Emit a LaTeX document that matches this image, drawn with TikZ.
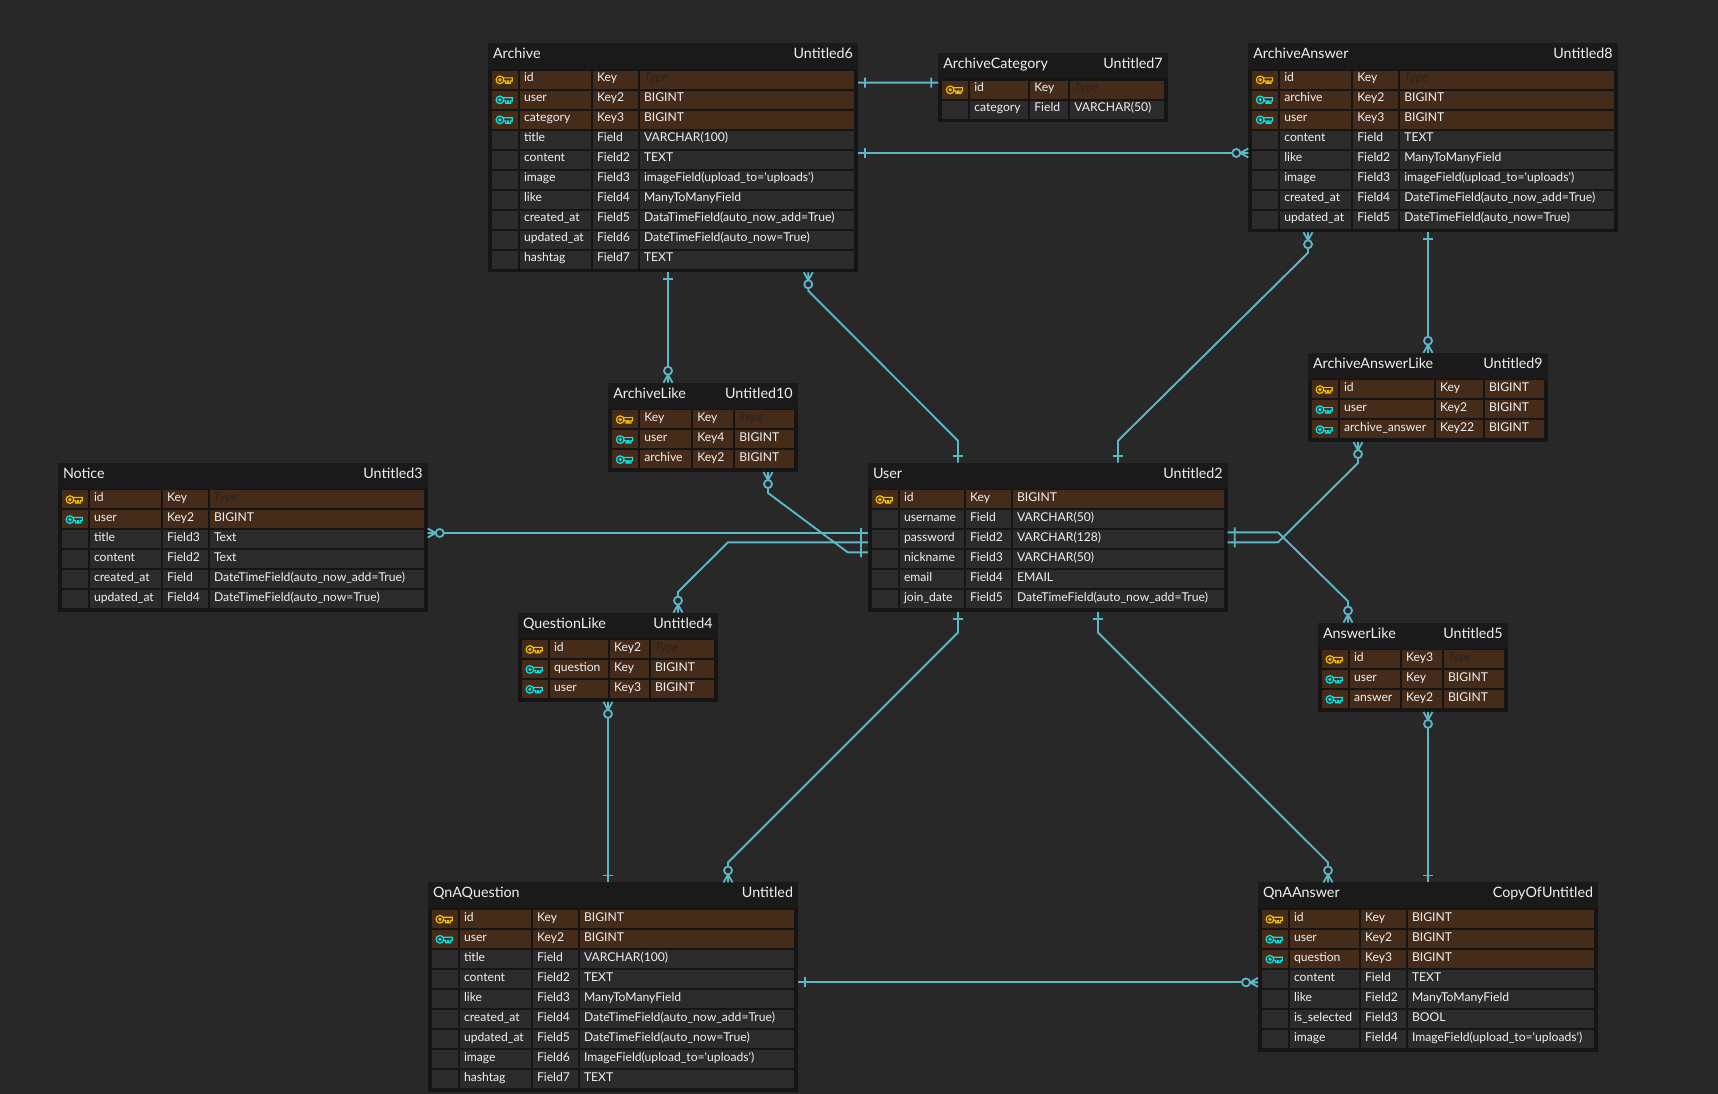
\documentclass[tikz,border=0pt]{standalone}
\usepackage{fontspec}
\setmainfont{Lato}
\usetikzlibrary{arrows.meta}

\definecolor{pagebg}{HTML}{282828}
\definecolor{tablebg}{HTML}{151515}
\definecolor{headbg}{HTML}{1A1A1A}
\definecolor{rowp}{HTML}{452B1A}
\definecolor{rowf}{HTML}{452B1A}
\definecolor{rown}{HTML}{2B2B2B}
\definecolor{keyp}{HTML}{F2C200}
\definecolor{keyf}{HTML}{00E8E8}
\definecolor{cellink}{HTML}{F0F0F0}
\definecolor{typeink}{HTML}{2A2320}
\definecolor{linkcol}{HTML}{5CB8C6}

\pgfdeclarearrow{
	name=ZeroMany,
	setup code={\pgfarrowssettipend{0pt}\pgfarrowssetlineend{-16pt}\pgfarrowssetvisualbackend{-16pt}\pgfarrowssetbackend{-16pt}},
	drawing code={
		\pgfsetdash{}{0pt}
		\pgfsetlinewidth{1.8pt}
		\pgfpathcircle{\pgfpoint{-12pt}{0pt}}{4pt}
		\pgfpathmoveto{\pgfpoint{-8pt}{0pt}}
		\pgfpathlineto{\pgfpoint{0pt}{0pt}}
		\pgfpathmoveto{\pgfpoint{-8pt}{0pt}}
		\pgfpathlineto{\pgfpoint{0pt}{4.5pt}}
		\pgfpathmoveto{\pgfpoint{-8pt}{0pt}}
		\pgfpathlineto{\pgfpoint{0pt}{-4.5pt}}
		\pgfusepathqstroke
	},
	defaults={}
}
\pgfdeclarearrow{
	name=OneBar,
	setup code={\pgfarrowssettipend{0pt}\pgfarrowssetlineend{0pt}\pgfarrowssetvisualbackend{-7pt}\pgfarrowssetbackend{-7pt}},
	drawing code={
		\pgfsetdash{}{0pt}
		\pgfsetlinewidth{1.7pt}
		\pgfpathmoveto{\pgfpoint{-7pt}{5pt}}
		\pgfpathlineto{\pgfpoint{-7pt}{-5pt}}
		\pgfusepathqstroke
	},
	defaults={}
}

\tikzset{
	tablebox/.style={fill=tablebg,anchor=north west,inner sep=0pt,outer sep=0pt},
	headbox/.style={fill=headbg,anchor=north west,inner sep=0pt,outer sep=0pt},
	headtext/.style={inner sep=0pt,outer sep=0pt,text=cellink,font=\fontsize{14.3}{16}\selectfont},
	cell/.style={anchor=north west,inner xsep=4pt,inner ysep=0pt,outer sep=0pt,text height=11.3pt,text depth=6.7pt,align=left,text=cellink,font=\fontsize{12.15}{14}\selectfont},
	keyline/.style={line width=1.2pt},
	link/.style={draw=linkcol,line width=1.9pt,line join=round}
}

\newcommand{\ph}{{\itshape\color{typeink}Type}}
\newcommand{\qt}{\textquotesingle}

% name, corner, width, name col, key col, rows, title, tag, row list
\newcommand{\ertable}[9]{
	\pgfmathsetmacro{\boxh}{29.3+20*#6}
	\pgfmathsetmacro{\kx}{34+#4}
	\pgfmathsetmacro{\tx}{36+#4+#5}
	\pgfmathsetmacro{\tw}{#3-48-#4-#5}
	\pgfmathsetmacro{\nw}{#4-8}
	\pgfmathsetmacro{\kw}{#5-8}
	\node[tablebox,minimum width=#3pt,minimum height=\boxh pt] (#1) at (#2) {};
	\node[headbox,minimum width=#3pt,minimum height=26pt] (#1-head) at (#1.north west) {};
	\node[headtext,anchor=base west] (#1-title) at ([xshift=5,yshift=-15.5]#1.north west) {#7};
	\node[headtext,anchor=base east] (#1-tag) at ([xshift=-5,yshift=-15.5]#1.north east) {#8};
	\foreach \kind/\nm/\ky/\ty [count=\i] in {#9}{
		\pgfmathsetmacro{\rowy}{27.7+20*(\i-1)}
		\node[cell,fill=row\kind,text width=18pt] (#1-i\i) at ([shift={(4,\rowy)}]#1.north west) {};
		\node[cell,fill=row\kind,text width=\nw pt] (#1-n\i) at ([shift={(32,\rowy)}]#1.north west) {\nm};
		\node[cell,fill=row\kind,text width=\kw pt] (#1-k\i) at ([shift={(\kx,\rowy)}]#1.north west) {\ky};
		\node[cell,fill=row\kind,text width=\tw pt] (#1-t\i) at ([shift={(\tx,\rowy)}]#1.north west) {\ty};
		\if\kind n\else
			\draw[keyline,draw=key\kind,shift={(#1-i\i.center)}] (-5.1,0.2) circle (3.8) (-5.1,0.2) circle (1)
				(-1.5,-1.8) -- (7.3,-1.8) -- (7.3,1.4) -- (5.6,1.4) -- (5.6,3.6) -- (3.6,3.6) -- (3.6,1.4) -- (2.4,1.4) -- (2.4,3.6) -- (0.6,3.6) -- (0.6,1.4) -- (-1.5,1.4);
		\fi
	}
}

\begin{document}
\begin{tikzpicture}[x=1pt,y=-0.9993pt]
	\useasboundingbox (0,0) rectangle (1718,1094.5);
	\fill[pagebg] (0,0) rectangle (1718,1094.5);

	\ertable{archive}{488,43}{370}{71}{45}{10}{Archive}{Untitled6}{
		p/id/Key/\ph,f/user/Key2/BIGINT,f/category/Key3/BIGINT,n/title/Field/VARCHAR(100),n/content/Field2/TEXT,
		n/image/Field3/imageField(upload\_to=\qt uploads\qt),n/like/Field4/ManyToManyField,
		n/created\_at/Field5/DataTimeField(auto\_now\_add=True),n/updated\_at/Field6/DateTimeField(auto\_now=True),n/hashtag/Field7/TEXT}
	\ertable{category}{938.3,53}{229.4}{58}{38}{2}{ArchiveCategory}{Untitled7}{
		p/id/Key/\ph,n/category/Field/VARCHAR(50)}
	\ertable{answer}{1248.3,43}{369.4}{71}{45}{8}{ArchiveAnswer}{Untitled8}{
		p/id/Key/\ph,f/archive/Key2/BIGINT,f/user/Key3/BIGINT,n/content/Field/TEXT,n/like/Field2/ManyToManyField,
		n/image/Field3/imageField(upload\_to=\qt uploads\qt),n/created\_at/Field4/DateTimeField(auto\_now\_add=True),
		n/updated\_at/Field5/DateTimeField(auto\_now=True)}
	\ertable{answerlike}{1308,353}{239.7}{94}{47}{3}{ArchiveAnswerLike}{Untitled9}{
		p/id/Key/BIGINT,f/user/Key2/BIGINT,f/archive\_answer/Key22/BIGINT}
	\ertable{archivelike}{608.3,383}{189.4}{51}{40}{3}{ArchiveLike}{Untitled10}{
		p/Key/Key/\ph,f/user/Key4/BIGINT,f/archive/Key2/BIGINT}
	\ertable{notice}{58,463}{369.7}{71}{45}{6}{Notice}{Untitled3}{
		p/id/Key/\ph,f/user/Key2/BIGINT,n/title/Field3/Text,n/content/Field2/Text,
		n/created\_at/Field/DateTimeField(auto\_now\_add=True),n/updated\_at/Field4/DateTimeField(auto\_now=True)}
	\ertable{user}{868,463}{359.7}{64}{45}{6}{User}{Untitled2}{
		p/id/Key/BIGINT,n/username/Field/VARCHAR(50),n/password/Field2/VARCHAR(128),n/nickname/Field3/VARCHAR(50),
		n/email/Field4/EMAIL,n/join\_date/Field5/DateTimeField(auto\_now\_add=True)}
	\ertable{questionlike}{518,613}{199.7}{58}{39}{3}{QuestionLike}{Untitled4}{
		p/id/Key2/\ph,f/question/Key/BIGINT,f/user/Key3/BIGINT}
	\ertable{qnalike}{1318,623}{189.7}{50}{40}{3}{AnswerLike}{Untitled5}{
		p/id/Key3/\ph,f/user/Key/BIGINT,f/answer/Key2/BIGINT}
	\ertable{question}{428,883}{370}{71}{45}{9}{QnAQuestion}{Untitled}{
		p/id/Key/BIGINT,f/user/Key2/BIGINT,n/title/Field/VARCHAR(100),n/content/Field2/TEXT,n/like/Field3/ManyToManyField,
		n/created\_at/Field4/DateTimeField(auto\_now\_add=True),n/updated\_at/Field5/DateTimeField(auto\_now=True),
		n/image/Field6/ImageField(upload\_to=\qt uploads\qt),n/hashtag/Field7/TEXT}
	\ertable{qnaanswer}{1258,883}{340}{69}{45}{7}{QnAAnswer}{CopyOfUntitled}{
		p/id/Key/BIGINT,f/user/Key2/BIGINT,f/question/Key3/BIGINT,n/content/Field/TEXT,n/like/Field2/ManyToManyField,
		n/is\_selected/Field3/BOOL,n/image/Field4/ImageField(upload\_to=\qt uploads\qt)}

	% straight links
	\draw[link,{OneBar}-{OneBar}] ([yshift=-39.7]archive.north east) -- ([yshift=-29.7]category.north west);
	\draw[link,{OneBar}-{ZeroMany}] ([yshift=-110]archive.north east) -- ([yshift=-110]answer.north west);
	\draw[link,{OneBar}-{ZeroMany}] ([xshift=180]archive.south west) -- ([xshift=59.7]archivelike.north west);
	\draw[link,{OneBar}-{ZeroMany}] ([xshift=179.7]answer.south west) -- ([xshift=120]answerlike.north west);
	\draw[link,{ZeroMany}-{OneBar}] ([yshift=-70.3]notice.north east) -- ([yshift=-70.3]user.north west);
	\draw[link,{ZeroMany}-{OneBar}] ([xshift=90]questionlike.south west) -- ([xshift=180]question.north west);
	\draw[link,{ZeroMany}-{OneBar}] ([xshift=110]qnalike.south west) -- ([xshift=170]qnaanswer.north west);
	\draw[link,{OneBar}-{ZeroMany}] ([yshift=-100]question.north east) -- ([yshift=-100]qnaanswer.north west);

	% bent links
	\draw[link,{ZeroMany}-{OneBar}] ([xshift=320.3]archive.south west) -- (808.3,291) -- (958,441) -- ([xshift=90]user.north west);
	\draw[link,{ZeroMany}-{OneBar}] ([xshift=59.7]answer.south west) -- (1308,253) -- (1118,441) -- ([xshift=250]user.north west);
	\draw[link,{ZeroMany}-{OneBar}] ([xshift=159.7]archivelike.south west) -- (768,493.3) -- (847.7,552.7) -- ([yshift=-89.7]user.north west);
	\draw[link,{ZeroMany}-{OneBar}] ([xshift=160]questionlike.north west) -- (678,592.3) -- (728,542.7) -- ([yshift=-79.7]user.north west);
	\draw[link,{ZeroMany}-{OneBar}] ([xshift=50]answerlike.south west) -- (1358,463.3) -- (1278,542.7) -- ([yshift=-79.7]user.north east);
	\draw[link,{OneBar}-{ZeroMany}] ([yshift=-69.7]user.north east) -- (1278,532.7) -- (1348,601.7) -- ([xshift=30]qnalike.north west);
	\draw[link,{OneBar}-{ZeroMany}] ([xshift=90]user.south west) -- (958,633) -- (728,863) -- ([xshift=300]question.north west);
	\draw[link,{OneBar}-{ZeroMany}] ([xshift=230]user.south west) -- (1098,633) -- (1328,863) -- ([xshift=70]qnaanswer.north west);
\end{tikzpicture}
\end{document}
